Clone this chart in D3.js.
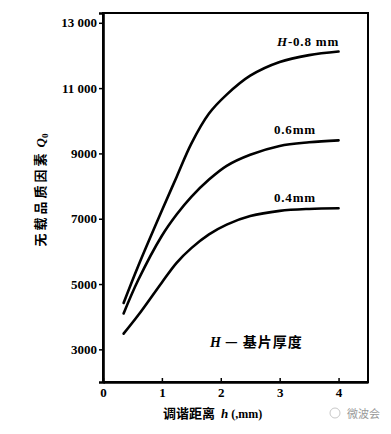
<!DOCTYPE html>
<html>
  <head>
    <meta charset="utf-8">
    <script type="text/javascript" src="https://cdn.jsdelivr.net/npm/d3@7"></script>
    <style type="text/css">
      body { margin: 0; background: #ffffff; }
      .axis path, .axis line { fill: none; stroke: #000; }
      .axis text {
        font-family: "Liberation Serif", "DejaVu Serif", serif;
        font-size: 13px;
        font-weight: bold;
        fill: #000;
      }
    </style>
  </head>
  <body>
    <script type="text/javascript">
      // tuning distance h (mm)
      var hValues = [0.35, 0.6, 1.0, 1.25, 1.5, 1.8, 2.1, 2.5, 3.0, 3.5, 4.0];

      // unloaded Q for each substrate thickness H
      var q08 = [4420, 5560, 7250, 8280, 9300, 10220, 10800, 11380, 11800, 12010, 12120];
      var q06 = [4100, 5130, 6480, 7130, 7670, 8200, 8620, 8960, 9230, 9340, 9400];
      var q04 = [3480, 4050, 5050, 5650, 6100, 6520, 6820, 7080, 7240, 7300, 7320];

      var seriesNames = ["H-0.8 mm", "0.6mm", "0.4mm"];
      var seriesValues = [q08, q06, q04];

      var xTicks = [0, 1, 2, 3, 4];
      var yTicks = [3000, 5000, 7000, 9000, 11000, 13000];
      var yTickLabels = ["3000", "5000", "7000", "9000", "11 000", "13 000"];

      var svgWidth = 391;
      var svgHeight = 434;

      var svg = d3.select("body")
        .append("svg")
        .attr("width", svgWidth)
        .attr("height", svgHeight);

      var xScale = d3.scaleLinear().domain([0, 4.5]).range([103, 368]);
      var yScale = d3.scaleLinear().domain([2000, 13300]).range([382, 13]);

      // frame (top and right sides)
      svg.append("rect")
        .attr("x", xScale(0))
        .attr("y", yScale(13300))
        .attr("width", xScale(4.5) - xScale(0))
        .attr("height", yScale(2000) - yScale(13300))
        .attr("fill", "none")
        .attr("stroke", "#000")
        .attr("stroke-width", 2);

      // y axis
      var yAxis = svg.append("g")
        .attr("class", "axis")
        .attr("transform", "translate(" + xScale(0) + ",0)")
        .call(d3.axisLeft(yScale)
          .tickValues(yTicks)
          .tickSize(4)
          .tickPadding(2)
          .tickFormat(function(d, i) { return yTickLabels[i]; }));
      yAxis.select(".domain").attr("stroke-width", 2.6);
      yAxis.selectAll("line").attr("stroke-width", 1.5);

      // x axis, ticks pointing inwards
      var xAxis = svg.append("g")
        .attr("class", "axis")
        .attr("transform", "translate(0," + yScale(2000) + ")")
        .call(d3.axisBottom(xScale)
          .tickValues(xTicks)
          .tickSizeInner(-4)
          .tickSizeOuter(0)
          .tickPadding(6)
          .tickFormat(d3.format("d")));
      xAxis.select(".domain").attr("stroke-width", 2.6);
      xAxis.selectAll("line").attr("stroke-width", 1.5);

      // curves
      var line = d3.line()
        .x(function(d, i) { return xScale(hValues[i]); })
        .y(function(d) { return yScale(d); })
        .curve(d3.curveCatmullRom.alpha(0.5));

      svg.selectAll(".curve")
        .data(seriesValues)
        .enter()
        .append("path")
        .attr("class", "curve")
        .attr("d", line)
        .attr("fill", "none")
        .attr("stroke", "#000")
        .attr("stroke-width", 2.6)
        .attr("stroke-linecap", "round");

      // curve labels, placed above the curve ends
      var labelFont = '"Liberation Serif", "DejaVu Serif", serif';
      svg.selectAll(".clabel")
        .data(seriesNames)
        .enter()
        .append("text")
        .attr("class", "clabel")
        .attr("x", function(d, i) { return i === 0 ? 277 : 274; })
        .attr("y", function(d, i) { return yScale(seriesValues[i][seriesValues[i].length - 1]) - 6; })
        .style("font-family", labelFont)
        .style("font-size", "13px")
        .style("font-weight", "bold")
        .style("letter-spacing", "0.8px")
        .each(function(d) {
          var t = d3.select(this);
          if (d.charAt(0) === "H") {
            t.append("tspan").style("font-style", "italic").text("H");
            t.append("tspan").text(d.slice(1));
          } else {
            t.text(d);
          }
        });

      // legend note
      var note = svg.append("text")
        .attr("x", 210)
        .attr("y", 347)
        .style("font-weight", "bold")
        .style("font-size", "14px");
      note.append("tspan")
        .style("font-family", labelFont)
        .style("font-style", "italic")
        .text("H");
      note.append("tspan")
        .attr("dx", 4)
        .style("font-family", '"Noto Sans CJK SC", sans-serif')
        .style("letter-spacing", "1px")
        .text("— 基片厚度");

      // x axis label
      var xLabel = svg.append("text")
        .attr("x", 163)
        .attr("y", 418)
        .style("font-weight", "bold")
        .style("font-size", "13px");
      xLabel.append("tspan")
        .style("font-family", '"Noto Sans CJK SC", sans-serif')
        .text("调谐距离");
      xLabel.append("tspan")
        .attr("dx", 6)
        .style("font-family", labelFont)
        .style("font-style", "italic")
        .text("h");
      xLabel.append("tspan")
        .attr("dx", 3)
        .style("font-family", labelFont)
        .style("font-size", "12px")
        .text("(,mm)");

      // y axis label
      var yLabel = svg.append("text")
        .attr("text-anchor", "middle")
        .attr("transform", "translate(45,190)rotate(-90)")
        .style("font-weight", "bold")
        .style("font-size", "13px");
      yLabel.append("tspan")
        .style("font-family", '"Noto Sans CJK SC", sans-serif')
        .style("letter-spacing", "3px")
        .text("无载品质因素");
      yLabel.append("tspan")
        .attr("dx", 3)
        .style("font-family", labelFont)
        .style("font-style", "italic")
        .text("Q");
      yLabel.append("tspan")
        .attr("dy", 3)
        .style("font-family", labelFont)
        .style("font-size", "9px")
        .text("0");

      // watermark
      svg.append("circle")
        .attr("cx", 335)
        .attr("cy", 413)
        .attr("r", 5)
        .attr("fill", "none")
        .attr("stroke", "#c8c8c8")
        .attr("stroke-width", 1);
      svg.append("text")
        .attr("x", 347)
        .attr("y", 418)
        .style("font-family", '"Noto Sans CJK SC", sans-serif')
        .style("font-size", "11px")
        .style("fill", "#999")
        .text("微波会");
    </script>
  </body>
</html>
